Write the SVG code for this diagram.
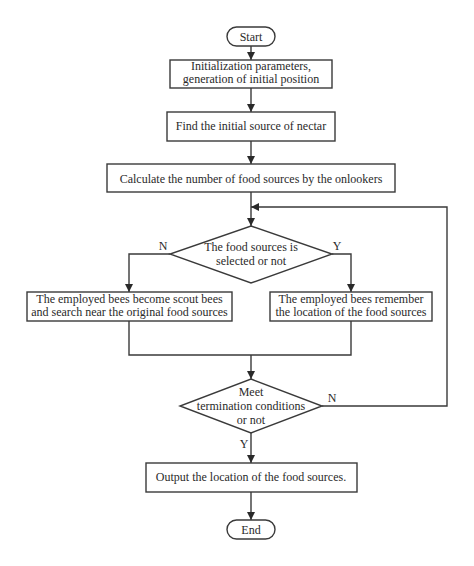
<svg xmlns="http://www.w3.org/2000/svg" width="474" height="566" viewBox="0 0 474 566">
<style>
.box{fill:#fff;stroke:#3a3a3a;stroke-width:1.4}
.ln{fill:none;stroke:#3a3a3a;stroke-width:1.4}
text{font-family:"Liberation Serif","Times New Roman",serif;font-size:12px;fill:#2a2a2a;text-anchor:middle}
</style>
<defs>
<marker id="ar" markerWidth="8" markerHeight="8" refX="8" refY="4" orient="auto" markerUnits="userSpaceOnUse">
<path d="M0,0 L8,4 L0,8 Z" fill="#2a2a2a"/>
</marker>
</defs>
<rect width="474" height="566" fill="#fff"/>
<g id="connectors">
<line class="ln" x1="251" y1="46" x2="251" y2="60" marker-end="url(#ar)"/>
<line class="ln" x1="251" y1="88" x2="251" y2="112" marker-end="url(#ar)"/>
<line class="ln" x1="251" y1="141" x2="251" y2="164" marker-end="url(#ar)"/>
<line class="ln" x1="251" y1="192" x2="251" y2="226" marker-end="url(#ar)"/>
<polyline class="ln" points="322,406 447,406 447,207 251,207" marker-end="url(#ar)"/>
<polyline class="ln" points="170,254 129,254 129,292" marker-end="url(#ar)"/>
<polyline class="ln" points="332,254 351,254 351,292" marker-end="url(#ar)"/>
<polyline class="ln" points="129,321 129,355 351,355 351,321"/>
<line class="ln" x1="251" y1="355" x2="251" y2="379" marker-end="url(#ar)"/>
<line class="ln" x1="251" y1="433" x2="251" y2="463" marker-end="url(#ar)"/>
<line class="ln" x1="251" y1="492" x2="251" y2="520" marker-end="url(#ar)"/>
<text x="163" y="250">N</text>
<text x="337" y="250">Y</text>
<text x="332" y="402">N</text>
<text x="244" y="448">Y</text>
</g>
<g id="start">
<rect class="box" x="227" y="27" width="48" height="19" rx="9.5"/>
<text x="251" y="40.5">Start</text>
</g>
<g id="init">
<rect class="box" x="170" y="60" width="162" height="28"/>
<text x="251" y="70">Initialization parameters,</text>
<text x="251" y="83">generation of initial position</text>
</g>
<g id="find">
<rect class="box" x="167" y="112" width="168" height="29"/>
<text x="251" y="130">Find the initial source of nectar</text>
</g>
<g id="calc">
<rect class="box" x="107" y="164" width="288" height="28"/>
<text x="251" y="182.5">Calculate the number of food sources by the onlookers</text>
</g>
<g id="decision1">
<polygon class="box" points="251,226 332,254 251,283 170,254"/>
<text x="251" y="251">The food sources is</text>
<text x="251" y="264.5">selected or not</text>
</g>
<g id="scout">
<rect class="box" x="27" y="292" width="205" height="29"/>
<text x="129.5" y="302.5">The employed bees become scout bees</text>
<text x="129.5" y="315.5">and search near the original food sources</text>
</g>
<g id="remember">
<rect class="box" x="270" y="292" width="162" height="29"/>
<text x="351" y="302.5">The employed bees remember</text>
<text x="351" y="315.5">the location of the food sources</text>
</g>
<g id="decision2">
<polygon class="box" points="251,379 322,406 251,433 180,406"/>
<text x="251" y="395.5">Meet</text>
<text x="251" y="409.5">termination conditions</text>
<text x="251" y="423.5">or not</text>
</g>
<g id="output">
<rect class="box" x="146" y="463" width="211" height="29"/>
<text x="251" y="481">Output the location of the food sources.</text>
</g>
<g id="end">
<rect class="box" x="227" y="520" width="48" height="19" rx="9.5"/>
<text x="251" y="533.5">End</text>
</g>
</svg>
